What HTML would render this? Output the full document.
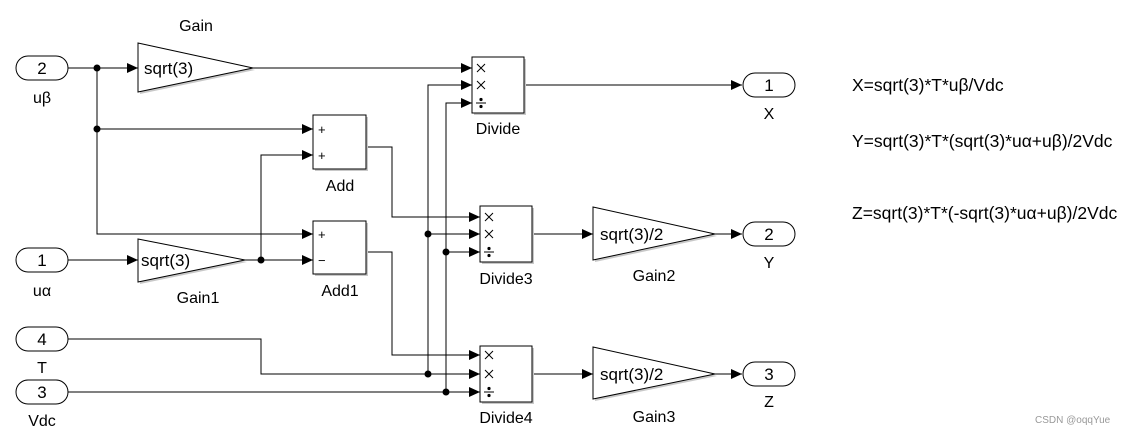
<!DOCTYPE html>
<html><head><meta charset="utf-8"><style>
html,body{margin:0;padding:0;background:#fff;}
svg{display:block;font-family:"Liberation Sans",Arial,sans-serif;}
</style></head><body>
<svg width="1133" height="435" viewBox="0 0 1133 435" xmlns="http://www.w3.org/2000/svg">
<defs>
<marker id="a" markerWidth="12" markerHeight="10" refX="11" refY="5" orient="auto" markerUnits="userSpaceOnUse">
<path d="M0,0 L11,5 L0,10 Z" fill="#000"/></marker>
</defs>
<g fill="none" stroke="#000" stroke-width="1">
<path d="M68,68 H138" marker-end="url(#a)"/>
<path d="M97,68 V234 H313" marker-end="url(#a)"/>
<path d="M97,129 H313" marker-end="url(#a)"/>
<path d="M253,68 H472" marker-end="url(#a)"/>
<path d="M68,260 H138" marker-end="url(#a)"/>
<path d="M245,260 H313" marker-end="url(#a)"/>
<path d="M261,260 V155 H313" marker-end="url(#a)"/>
<path d="M366,147 H392 V217 H480" marker-end="url(#a)"/>
<path d="M366,252 H392 V355 H480" marker-end="url(#a)"/>
<path d="M68,339 H261 V374 H480" marker-end="url(#a)"/>
<path d="M68,392 H480" marker-end="url(#a)"/>
<path d="M428,374 V85 H472" marker-end="url(#a)"/>
<path d="M428,234 H480" marker-end="url(#a)"/>
<path d="M446,392 V103 H472" marker-end="url(#a)"/>
<path d="M446,252 H480" marker-end="url(#a)"/>
<path d="M524,85 H742" marker-end="url(#a)"/>
<path d="M532,234 H593" marker-end="url(#a)"/>
<path d="M532,374 H593" marker-end="url(#a)"/>
<path d="M715,234 H742" marker-end="url(#a)"/>
<path d="M715,374 H742" marker-end="url(#a)"/>
</g>
<g fill="#000">
<circle cx="97" cy="68" r="3.5"/><circle cx="97" cy="129" r="3.5"/>
<circle cx="261" cy="260" r="3.5"/>
<circle cx="428" cy="234" r="3.5"/><circle cx="428" cy="374" r="3.5"/>
<circle cx="446" cy="252" r="3.5"/><circle cx="446" cy="392" r="3.5"/>
</g>
<g fill="#c8c8c8">
<rect x="315" y="117" width="53" height="54"/>
<rect x="315" y="223" width="53" height="53"/>
<rect x="474" y="59" width="52" height="56"/>
<rect x="482" y="208" width="52" height="56"/>
<rect x="482" y="348" width="52" height="56"/>
<polygon points="140,45 255,70 140,94"/>
<polygon points="140,241 247,262 140,284"/>
<polygon points="595,209 717,236 595,262"/>
<polygon points="595,349 717,376 595,401"/>
</g>
<g fill="#fff" stroke="#000" stroke-width="1">
<rect x="313" y="115" width="53" height="54"/>
<rect x="313" y="221" width="53" height="53"/>
<rect x="472" y="57" width="52" height="56"/>
<rect x="480" y="206" width="52" height="56"/>
<rect x="480" y="346" width="52" height="56"/>
<polygon points="138,43 253,68 138,92"/>
<polygon points="138,239 245,260 138,282"/>
<polygon points="593,207 715,234 593,260"/>
<polygon points="593,347 715,374 593,399"/>
<rect x="16" y="56" width="52" height="24" rx="12"/>
<rect x="16" y="248" width="52" height="24" rx="12"/>
<rect x="16" y="327" width="52" height="24" rx="12"/>
<rect x="16" y="380" width="52" height="24" rx="12"/>
<rect x="743" y="73" width="52" height="24" rx="12"/>
<rect x="743" y="222" width="52" height="24" rx="12"/>
<rect x="743" y="362" width="52" height="24" rx="12"/>
</g>
<g stroke="#000" stroke-width="1" fill="none">
<path d="M477,64 l8,8 m0,-8 l-8,8 M477,81 l8,8 m0,-8 l-8,8 M476,103 h10"/>
<path d="M485,213 l8,8 m0,-8 l-8,8 M485,230 l8,8 m0,-8 l-8,8 M484,252 h10"/>
<path d="M485,351 l8,8 m0,-8 l-8,8 M485,370 l8,8 m0,-8 l-8,8 M484,392 h10"/>
</g>
<g fill="#000">
<circle cx="481" cy="99.5" r="1.6"/><circle cx="481" cy="106.5" r="1.6"/>
<circle cx="489" cy="248.5" r="1.6"/><circle cx="489" cy="255.5" r="1.6"/>
<circle cx="489" cy="388.5" r="1.6"/><circle cx="489" cy="395.5" r="1.6"/>
</g>
<g font-size="16" fill="#000">
<text x="196" y="31" text-anchor="middle">Gain</text>
<text x="198" y="303" text-anchor="middle">Gain1</text>
<text x="654" y="281" text-anchor="middle">Gain2</text>
<text x="654" y="422" text-anchor="middle">Gain3</text>
<text x="340" y="191" text-anchor="middle">Add</text>
<text x="340" y="296" text-anchor="middle">Add1</text>
<text x="498" y="134" text-anchor="middle">Divide</text>
<text x="506" y="284" text-anchor="middle">Divide3</text>
<text x="506" y="423" text-anchor="middle">Divide4</text>
<text x="42" y="103" text-anchor="middle">uβ</text>
<text x="42" y="296" text-anchor="middle">uα</text>
<text x="42" y="373" text-anchor="middle">T</text>
<text x="42" y="426" text-anchor="middle">Vdc</text>
<text x="769" y="119" text-anchor="middle">X</text>
<text x="769" y="268" text-anchor="middle">Y</text>
<text x="769" y="407" text-anchor="middle">Z</text>
</g>
<g font-size="17" fill="#000">
<text x="144" y="74">sqrt(3)</text>
<text x="141" y="266">sqrt(3)</text>
<text x="600" y="240">sqrt(3)/2</text>
<text x="600" y="380">sqrt(3)/2</text>
</g>
<g font-size="13" fill="#000">
<text x="318" y="134">+</text><text x="318" y="160">+</text>
<text x="318" y="239">+</text><text x="318" y="265">−</text>
</g>
<g font-size="17" fill="#000" text-anchor="middle">
<text x="42" y="74">2</text><text x="42" y="266">1</text>
<text x="42" y="345">4</text><text x="42" y="398">3</text>
<text x="769" y="91">1</text><text x="769" y="240">2</text><text x="769" y="380">3</text>
</g>
<g font-size="17.5" fill="#000">
<text x="852" y="91">X=sqrt(3)*T*uβ/Vdc</text>
<text x="852" y="147">Y=sqrt(3)*T*(sqrt(3)*uα+uβ)/2Vdc</text>
<text x="852" y="219">Z=sqrt(3)*T*(-sqrt(3)*uα+uβ)/2Vdc</text>
</g>
<text x="1035" y="423" font-size="10" fill="#999">CSDN @oqqYue</text>
</svg>
</body></html>
